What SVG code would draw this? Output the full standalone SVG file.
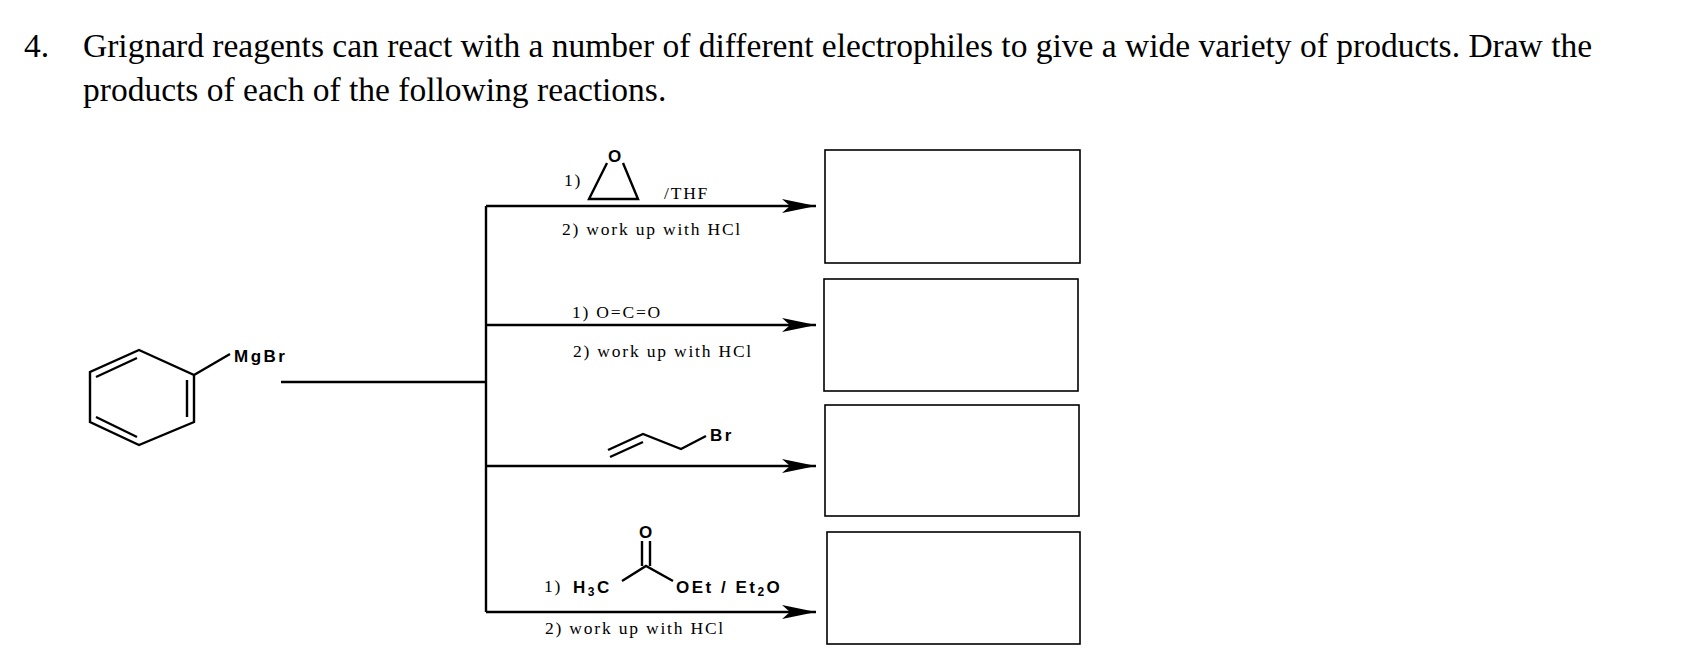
<svg xmlns="http://www.w3.org/2000/svg" width="1708" height="668" viewBox="0 0 1708 668">
<style>
.t{font-family:"Liberation Serif",serif;font-size:33.5px;fill:#000}
.c{font-family:"Liberation Serif",serif;font-size:17.5px;letter-spacing:1.8px;fill:#000}
.b{font-family:"Liberation Sans",sans-serif;font-size:17px;font-weight:bold;letter-spacing:2.5px;fill:#000}
.ln{stroke:#000;stroke-width:2.4;fill:none}
.box{stroke:#000;stroke-width:1.6;fill:#fff}
</style>
<defs><marker id="ah" markerWidth="34" markerHeight="14" refX="34" refY="7" orient="auto" markerUnits="userSpaceOnUse"><path d="M0,0 L34,7 L0,14 L8,7 Z" fill="#000"/></marker></defs>
<rect width="1708" height="668" fill="#fff"/>
<text class="t" x="24" y="57">4.</text>
<text class="t" x="83" y="57">Grignard reagents can react with a number of different electrophiles to give a wide variety of products. Draw the</text>
<text class="t" x="83" y="101">products of each of the following reactions.</text>
<g id="start">
<path class="ln" d="M139,350 L194,375 L194,422 L139,445 L90,422 L90,372 Z M194,375 L230,354"/>
<path class="ln" d="M96,377 L137,358 M187,380 L187,417 M96,417 L137,437"/>
<text class="b" x="234" y="362">MgBr</text>
</g>
<g id="connectors">
<path class="ln" d="M281,382 L486,382 M486,206 L486,612"/>
<path class="ln" d="M486,206 L816,206" marker-end="url(#ah)"/>
<path class="ln" d="M486,325 L816,325" marker-end="url(#ah)"/>
<path class="ln" d="M486,466 L816,466" marker-end="url(#ah)" stroke-width="3"/>
<path class="ln" d="M486,612 L816,612" marker-end="url(#ah)"/>
</g>
<g id="r1">
<text class="c" x="564" y="186">1)</text>
<path class="ln" d="M607,163 L589,199 L638,199 L623,163"/>
<text class="b" x="608" y="162">O</text>
<text class="c" x="664" y="199">/THF</text>
<text class="c" x="562" y="235">2) work up with HCl</text>
</g>
<g id="r2">
<text class="c" x="572" y="318">1) O=C=O</text>
<text class="c" x="573" y="357">2) work up with HCl</text>
</g>
<g id="r3">
<path class="ln" d="M608,450 L643,434 L681,449 L706,436 M610,457 L643,442"/>
<text class="b" x="710" y="441">Br</text>
</g>
<g id="r4">
<text class="c" x="544" y="592">1)</text>
<text class="b" x="573" y="593">H<tspan font-size="12" dy="3">3</tspan><tspan dy="-3">C</tspan></text>
<path class="ln" d="M622,581 L646,566 L673,581 M642,566 L642,541 M650,566 L650,541"/>
<text class="b" x="639" y="538">O</text>
<text class="b" x="676" y="593">OEt / Et<tspan font-size="12" dy="3">2</tspan><tspan dy="-3">O</tspan></text>
<text class="c" x="545" y="634">2) work up with HCl</text>
</g>
<g id="p1"><rect class="box" x="825" y="150" width="255" height="113"/></g>
<g id="p2"><rect class="box" x="824" y="279" width="254" height="112"/></g>
<g id="p3"><rect class="box" x="825" y="405" width="254" height="111"/></g>
<g id="p4"><rect class="box" x="827" y="532" width="253" height="112"/></g>
</svg>
